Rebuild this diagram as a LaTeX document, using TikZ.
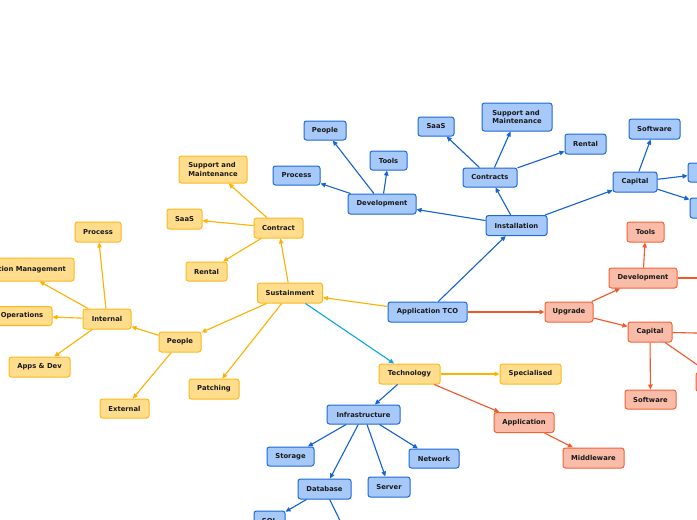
\documentclass[tikz,border=0pt]{standalone}
\usepackage{fontspec}
\setmainfont{DejaVu Sans}
\usetikzlibrary{arrows.meta}
\definecolor{bfill}{RGB}{166,201,250}
\definecolor{bdraw}{RGB}{30,105,215}
\definecolor{yfill}{RGB}{255,221,140}
\definecolor{ydraw}{RGB}{255,184,28}
\definecolor{sfill}{RGB}{248,188,168}
\definecolor{sdraw}{RGB}{244,98,58}
\definecolor{barr}{RGB}{20,100,215}
\definecolor{yarr}{RGB}{255,178,0}
\definecolor{sarr}{RGB}{245,88,40}
\definecolor{carr}{RGB}{10,170,230}
\tikzset{
  box/.style={rectangle, rounded corners=2.5pt, line width=1pt, inner sep=2pt,
    font=\fontsize{6.8pt}{8.2pt}\selectfont\bfseries, text=black!90, align=left},
  bn/.style={box, fill=bfill, draw=bdraw},
  yn/.style={box, fill=yfill, draw=ydraw},
  sn/.style={box, fill=sfill, draw=sdraw},
  sz/.style 2 args={minimum width=#1pt, minimum height=#2pt},
  link/.style={line width=1.1pt, -{Triangle[length=5pt,width=4.5pt]}},
  bl/.style={link, draw=barr, fill=barr},
  yl/.style={link, draw=yarr, fill=yarr},
  sl/.style={link, draw=sarr, fill=sarr},
  cl/.style={link, draw=carr, fill=carr}
}
\begin{document}
\begin{tikzpicture}[x=1pt,y=-1pt]
\path[use as bounding box, fill=white] (0,0) rectangle (697,520);
\clip (0,0) rectangle (697,520);

% ---- yellow (Sustainment) ----
\node[yn, sz={65}{20}] (sus) at (290,293) {Sustainment};
\node[yn, sz={49}{20}] (contract) at (278.5,228) {Contract};
\node[yn, sz={68}{27}] (ysup) at (213,169.5) {Support and\\Maintenance};
\node[yn, sz={35}{20}] (ysaas) at (184.5,219) {SaaS};
\node[yn, sz={41}{19}] (yrent) at (206.5,271.5) {Rental};
\node[yn, sz={42}{20}] (ypeople) at (180,342) {People};
\node[yn, sz={48}{20}] (internal) at (107,319) {Internal};
\node[yn, sz={46}{20}] (yproc) at (98,232) {Process};
\node[yn, sz={112}{23}] (appmgmt) at (18,269.5) {Application Management};
\node[yn, sz={60}{19}] (ops) at (22,316) {Operations};
\node[yn, sz={61}{20}] (appsdev) at (39.5,367) {Apps \& Dev};
\node[yn, sz={49}{19}] (external) at (124.5,408.5) {External};
\node[yn, sz={50}{20}] (patching) at (214,389) {Patching};
\node[yn, sz={61}{20}] (tech) at (409.5,374) {Technology};
\node[yn, sz={61}{20}] (special) at (530.5,374) {Specialised};

% ---- salmon (Upgrade) ----
\node[sn, sz={60}{20}] (sapp) at (524,422.5) {Application};
\node[sn, sz={61}{20}] (middle) at (593.5,458) {Middleware};
\node[sn, sz={48}{20}] (upgrade) at (569,312) {Upgrade};
\node[sn, sz={68}{20}] (sdev) at (643,278) {Development};
\node[sn, sz={37}{20}] (stools) at (645.5,232) {Tools};
\node[sn, sz={44}{20}] (scap) at (650,332) {Capital};
\node[sn, sz={51}{19}] (ssoft) at (650.5,399.5) {Software};
\node[sn, sz={52}{19}] (spart) at (722,382) {};
\coordinate (soffa) at (740,278);
\coordinate (soffb) at (740,334);

% ---- blue (Installation / Infrastructure) ----
\node[bn, sz={79}{20}] (tco) at (427.5,312) {Application TCO};
\node[bn, sz={61}{20}] (inst) at (516.5,225.5) {Installation};
\node[bn, sz={68}{20}] (bdev) at (382,204) {Development};
\node[bn, sz={47}{19}] (bproc) at (296.5,175.5) {Process};
\node[bn, sz={42}{19}] (bpeople) at (325,130.5) {People};
\node[bn, sz={37}{19}] (btools) at (388.5,160.5) {Tools};
\node[bn, sz={54}{19}] (contracts) at (490,177.5) {Contracts};
\node[bn, sz={36}{19}] (bsaas) at (436,126.5) {SaaS};
\node[bn, sz={70}{28}] (bsup) at (517,117) {Support and\\Maintenance};
\node[bn, sz={41}{20}] (brent) at (585.5,144) {Rental};
\node[bn, sz={44}{20}] (bcap) at (635,182) {Capital};
\node[bn, sz={51}{20}] (bsoft) at (654.5,129) {Software};
\node[bn, sz={52}{19}] (bparta) at (714,172.5) {};
\node[bn, sz={52}{20}] (bpartb) at (716,208) {};
\node[bn, sz={73}{19}] (infra) at (363.5,414.5) {Infrastructure};
\node[bn, sz={47}{19}] (storage) at (290.5,456.5) {Storage};
\node[bn, sz={50}{19}] (network) at (434,458.5) {Network};
\node[bn, sz={42}{20}] (server) at (389,487) {Server};
\node[bn, sz={53}{20}] (database) at (324.5,489) {Database};
\node[bn, sz={31}{20}] (sql) at (269.5,521) {SQL};
\coordinate (dboff) at (352,545);

% ---- connectors ----
\draw[bl] (tco) -- (inst);
\draw[yl] (tco) -- (sus);
\draw[sl] (tco) -- (upgrade);
\draw[cl] (sus) -- (tech);

\draw[yl] (sus) -- (contract);
\draw[yl] (sus) -- (ypeople);
\draw[yl] (sus) -- (patching);
\draw[yl] (contract) -- (ysup);
\draw[yl] (contract) -- (ysaas);
\draw[yl] (contract) -- (yrent);
\draw[yl] (ypeople) -- (internal);
\draw[yl] (ypeople) -- (external);
\draw[yl] (internal) -- (yproc);
\draw[yl] (internal) -- (appmgmt);
\draw[yl] (internal) -- (ops);
\draw[yl] (internal) -- (appsdev);

\draw[yl] (tech) -- (special);
\draw[sl] (tech) -- (sapp);
\draw[bl] (tech) -- (infra);
\draw[sl] (sapp) -- (middle);

\draw[bl] (infra) -- (storage);
\draw[bl] (infra) -- (database);
\draw[bl] (infra) -- (server);
\draw[bl] (infra) -- (network);
\draw[bl] (database) -- (sql);
\draw[bl] (database) -- (dboff);

\draw[bl] (inst) -- (bdev);
\draw[bl] (inst) -- (contracts);
\draw[bl] (inst) -- (bcap);
\draw[bl] (bdev) -- (bproc);
\draw[bl] (bdev) -- (bpeople);
\draw[bl] (bdev) -- (btools);
\draw[bl] (contracts) -- (bsaas);
\draw[bl] (contracts) -- (bsup);
\draw[bl] (contracts) -- (brent);
\draw[bl] (bcap) -- (bsoft);
\draw[bl] (bcap) -- (bparta);
\draw[bl] (bcap) -- (bpartb);

\draw[sl] (upgrade) -- (sdev);
\draw[sl] (upgrade) -- (scap);
\draw[sl] (sdev) -- (stools);
\draw[sl] (sdev) -- (soffa);
\draw[sl] (scap) -- (ssoft);
\draw[sl] (scap) -- (soffb);
\draw[sl] (scap) -- (spart);
\end{tikzpicture}
\end{document}
